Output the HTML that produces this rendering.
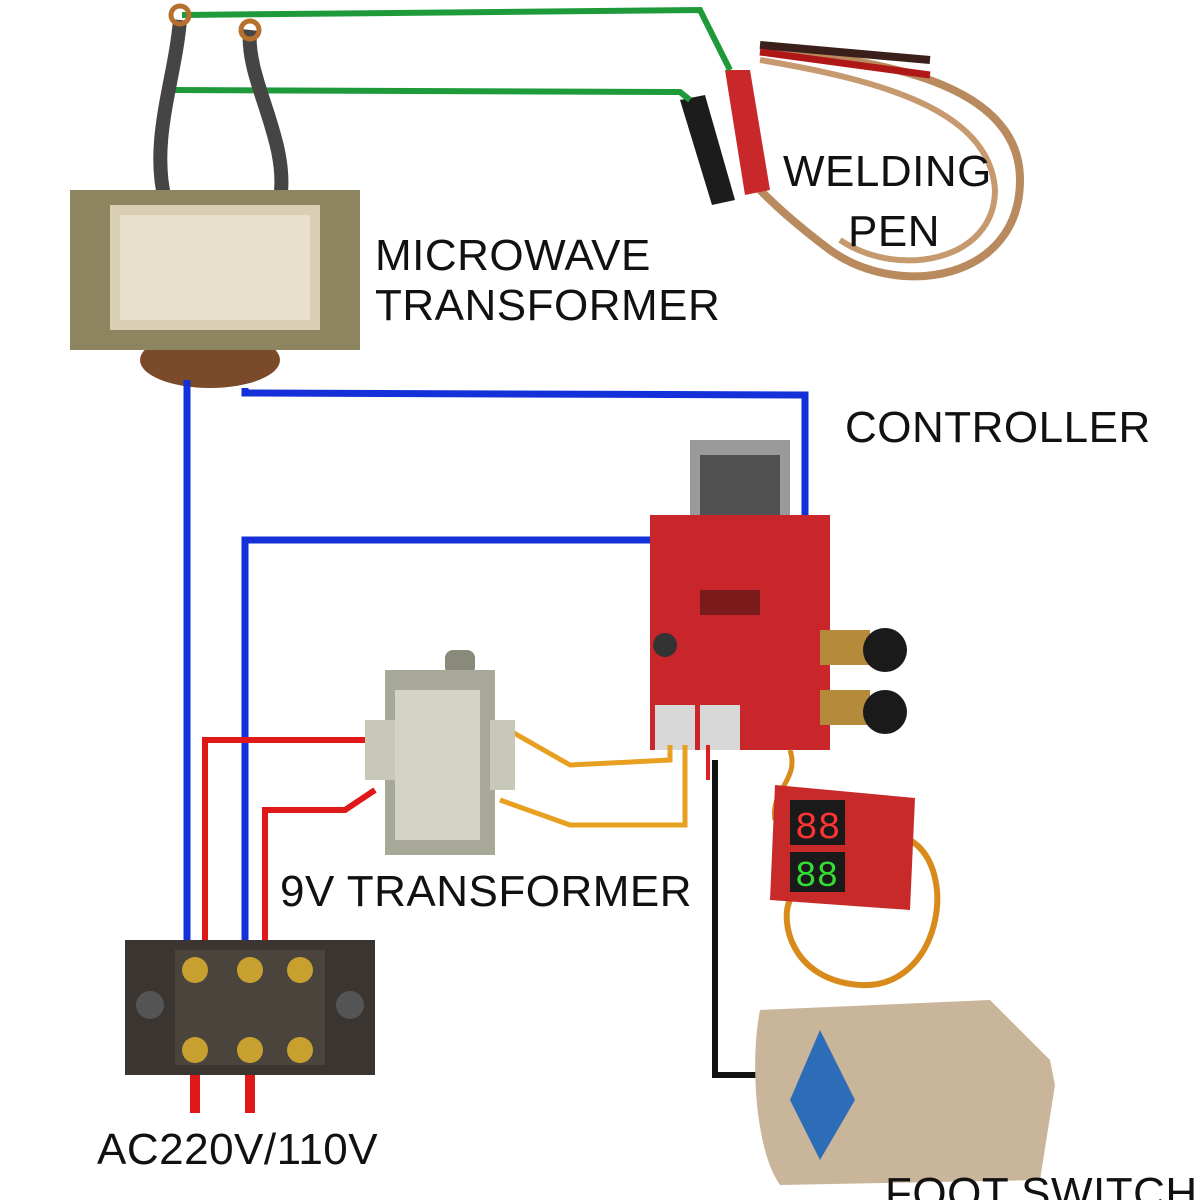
<!DOCTYPE html>
<html><head><meta charset="utf-8"><style>
html,body{margin:0;padding:0;background:#fff;}
.wrap{position:relative;width:1200px;height:1200px;overflow:hidden;font-family:"Liberation Sans",sans-serif;}
.lbl{position:absolute;color:#111;font-size:44px;line-height:52px;letter-spacing:0.5px;white-space:nowrap;}
</style></head><body><div class="wrap">
<svg width="1200" height="1200" viewBox="0 0 1200 1200" style="position:absolute;left:0;top:0">
<path d="M760 50 C900 60 1020 90 1020 180 C1020 280 900 300 830 250 C790 220 770 200 760 190" fill="none" stroke="#b98a5e" stroke-width="8"/>
<path d="M760 60 C880 80 990 110 995 190 C995 260 900 280 840 240" fill="none" stroke="#c69a6e" stroke-width="6"/>
<path d="M760 45 L930 60" stroke="#3a1f1a" stroke-width="8"/>
<path d="M760 52 L930 75" stroke="#b01818" stroke-width="7"/>
<path d="M725 70 L750 70 L770 190 L745 195 Z" fill="#c8282a"/>
<path d="M680 100 L705 95 L735 200 L712 205 Z" fill="#1c1c1c"/>
<polyline points="182,15 700,10 730,70" fill="none" stroke="#1f9a3a" stroke-width="6"/>
<polyline points="175,90 680,92 690,100" fill="none" stroke="#1f9a3a" stroke-width="6"/>
<path d="M180 20 C175 80 150 140 165 200" fill="none" stroke="#454545" stroke-width="14"/>
<path d="M250 30 C245 80 290 140 280 200" fill="none" stroke="#454545" stroke-width="14"/>
<circle cx="180" cy="15" r="9" fill="none" stroke="#b5702e" stroke-width="5"/>
<circle cx="250" cy="30" r="9" fill="none" stroke="#b5702e" stroke-width="5"/>
<ellipse cx="210" cy="360" rx="70" ry="28" fill="#7a4a2a"/>
<rect x="70" y="190" width="290" height="160" fill="#8c8560"/>
<rect x="110" y="205" width="210" height="125" fill="#d9cfb4"/>
<rect x="120" y="215" width="190" height="105" fill="#e8e0cc"/>
<polyline points="187,380 187,960" fill="none" stroke="#1430d8" stroke-width="7"/>
<polyline points="245,388 245,393 805,395 805,545" fill="none" stroke="#1430d8" stroke-width="7"/>
<polyline points="245,960 245,540 670,540" fill="none" stroke="#1430d8" stroke-width="7"/>
<rect x="690" y="440" width="100" height="80" fill="#9a9a9a"/>
<rect x="700" y="455" width="80" height="60" fill="#505050"/>
<rect x="650" y="515" width="180" height="235" fill="#c8262a"/>
<rect x="655" y="705" width="40" height="45" fill="#d8d8d8"/>
<rect x="700" y="705" width="40" height="45" fill="#d8d8d8"/>
<rect x="700" y="590" width="60" height="25" fill="#7a1a1a"/>
<circle cx="665" cy="645" r="12" fill="#333"/>
<rect x="820" y="630" width="50" height="35" fill="#b58a3a"/>
<circle cx="885" cy="650" r="22" fill="#1a1a1a"/>
<rect x="820" y="690" width="50" height="35" fill="#b58a3a"/>
<circle cx="885" cy="712" r="22" fill="#1a1a1a"/>
<path d="M790 750 C800 780 770 790 775 820" fill="none" stroke="#d88b1a" stroke-width="5"/>
<path d="M910 840 C960 870 940 990 860 985 C790 980 780 920 790 900" fill="none" stroke="#d88b1a" stroke-width="6"/>
<polygon points="775,785 915,798 910,910 770,900" fill="#c82a2a"/>
<rect x="790" y="800" width="55" height="45" fill="#1a1a1a"/>
<rect x="790" y="852" width="55" height="40" fill="#1a1a1a"/>
<text x="795" y="838" font-size="38" fill="#ff3333" font-family="Liberation Mono">88</text>
<text x="795" y="886" font-size="36" fill="#33dd33" font-family="Liberation Mono">88</text>
<polyline points="715,760 715,1075 765,1075" fill="none" stroke="#111" stroke-width="6"/>
<polyline points="708,745 708,780" stroke="#e02020" stroke-width="4"/>
<polyline points="500,725 570,765 670,760 670,745" fill="none" stroke="#e8a020" stroke-width="5"/>
<polyline points="500,800 570,825 685,825 685,745" fill="none" stroke="#e8a020" stroke-width="5"/>
<polyline points="205,965 205,740 375,740" fill="none" stroke="#e01818" stroke-width="6"/>
<polyline points="265,965 265,810 345,810 375,790" fill="none" stroke="#e01818" stroke-width="6"/>
<rect x="445" y="650" width="30" height="25" rx="8" fill="#8a8a7a"/>
<rect x="385" y="670" width="110" height="185" fill="#a8a898"/>
<rect x="395" y="690" width="85" height="150" fill="#d4d4c4"/>
<rect x="365" y="720" width="30" height="60" fill="#c8c8b8"/>
<rect x="490" y="720" width="25" height="70" fill="#c8c8b8"/>
<rect x="125" y="940" width="250" height="135" fill="#3a3530"/>
<rect x="175" y="950" width="150" height="115" fill="#4a443d"/>
<circle cx="195" cy="970" r="13" fill="#c8a030"/><circle cx="250" cy="970" r="13" fill="#c8a030"/><circle cx="300" cy="970" r="13" fill="#c8a030"/>
<circle cx="195" cy="1050" r="13" fill="#c8a030"/><circle cx="250" cy="1050" r="13" fill="#c8a030"/><circle cx="300" cy="1050" r="13" fill="#c8a030"/>
<circle cx="150" cy="1005" r="14" fill="#555"/><circle cx="350" cy="1005" r="14" fill="#555"/>
<rect x="190" y="1075" width="10" height="38" fill="#e01818"/>
<rect x="245" y="1075" width="10" height="38" fill="#e01818"/>
<path d="M760 1010 L990 1000 L1050 1060 L1055 1085 L1040 1180 L780 1185 C755 1150 750 1060 760 1010 Z" fill="#c9b59a"/>
<polygon points="820,1030 855,1100 820,1160 790,1100" fill="#2d6db8"/>
</svg>
<div class="lbl" style="left:783px;top:146px;">WELDING</div>
<div class="lbl" style="left:848px;top:206px;">PEN</div>
<div class="lbl" style="left:375px;top:230px;">MICROWAVE</div>
<div class="lbl" style="left:375px;top:280px;">TRANSFORMER</div>
<div class="lbl" style="left:845px;top:402px;">CONTROLLER</div>
<div class="lbl" style="left:280px;top:866px;">9V TRANSFORMER</div>
<div class="lbl" style="left:97px;top:1124px;">AC220V/110V</div>
<div class="lbl" style="left:885px;top:1168px;">FOOT SWITCH</div>
</div></body></html>
